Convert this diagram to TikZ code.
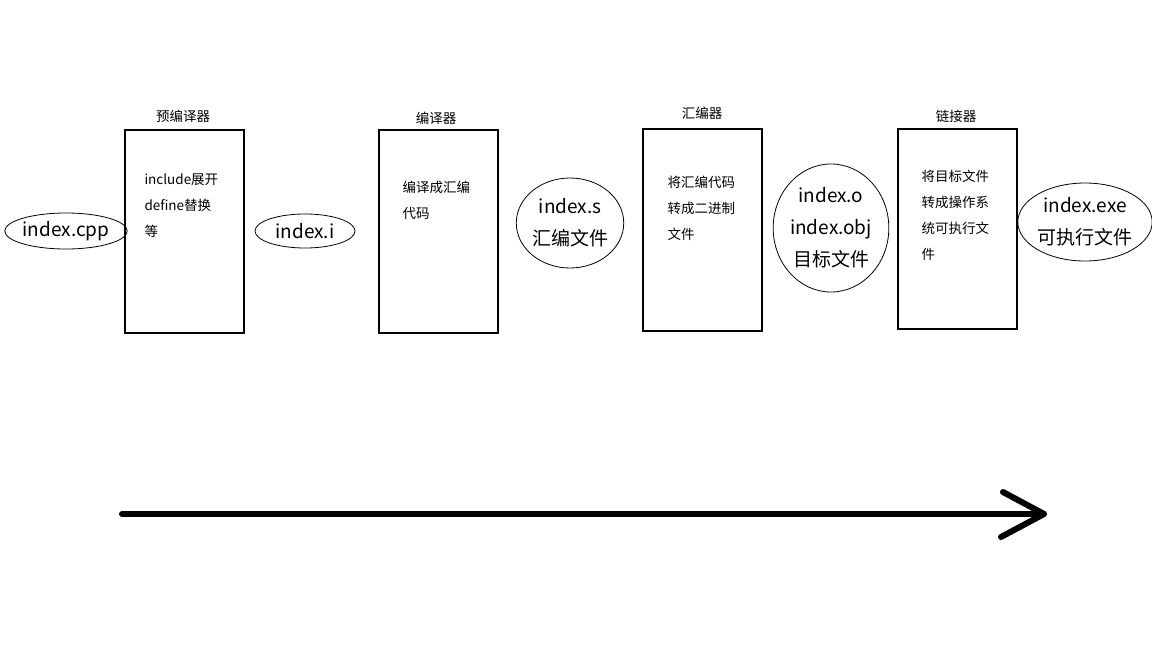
\documentclass[tikz,border=0pt]{standalone}
\usepackage{fontspec}
\setmainfont{Noto Sans CJK SC}
\usetikzlibrary{shapes.geometric}
\tikzset{
  stage/.style={draw,line width=2.5pt},
  ell/.style={draw,ellipse,line width=0.8pt,inner sep=0pt},
  big/.style={font=\fontsize{19}{32}\selectfont,align=center},
  small/.style={font=\fontsize{13.5}{26}\selectfont,align=left,anchor=north west},
  lbl/.style={font=\fontsize{13.5}{16}\selectfont}
}
\begin{document}
\begin{tikzpicture}[x=1pt,y=-1pt]
\useasboundingbox (0,0) rectangle (1152,648);
\fill[white] (0,0) rectangle (1152,648);
% ellipses
\node[ell,minimum width=104pt,minimum height=36pt,big] (cpp) at (66,231) {index.cpp};
\node[ell,minimum width=100pt,minimum height=34pt,big] (ii) at (305,231) {index.i};
\node[ell,minimum width=104pt,minimum height=90pt,big] (ss) at (570,223) {index.s\\汇编文件};
\node[ell,minimum width=108pt,minimum height=128pt,big] (oo) at (831,228) {index.o\\index.obj\\目标文件};
\node[ell,minimum width=118pt,minimum height=78pt,big] (exe) at (1085,222) {index.exe\\可执行文件};
% boxes
\draw[stage] (125,130) rectangle (244,333);
\draw[stage] (379,130) rectangle (498,333);
\draw[stage] (643,129) rectangle (762,331);
\draw[stage] (898,129) rectangle (1017,329);
\node[lbl] (l1) at (183,116) {预编译器};
\node[lbl] (l2) at (436,118) {编译器};
\node[lbl] (l3) at (702,113) {汇编器};
\node[lbl] (l4) at (956,116) {链接器};
\node[small] (t1) at (141,170) {include展开\\define替换\\等};
\node[small] (t2) at (399,178) {编译成汇编\\代码};
\node[small] (t3) at (664,173) {将汇编代码\\转成二进制\\文件};
\node[small] (t4) at (918,167) {将目标文件\\转成操作系\\统可执行文\\件};
% arrow
\coordinate (a0) at (122,514);
\coordinate (a1) at (1044,514);
\draw[line width=6pt,line cap=round] (a0) -- (a1);
\draw[line width=6pt,line cap=round,line join=round] (1003,492) -- (a1) -- (1001,537);
\end{tikzpicture}
\end{document}
